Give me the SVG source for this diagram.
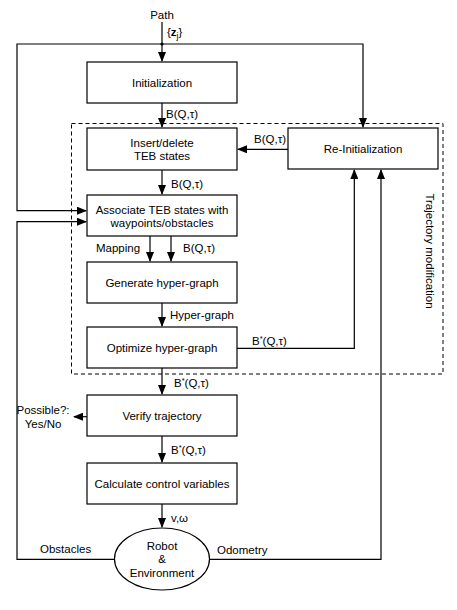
<svg xmlns="http://www.w3.org/2000/svg" width="457" height="610" viewBox="0 0 457 610">
<defs>
<marker id="ah" markerWidth="10" markerHeight="8" refX="9" refY="4" orient="auto" markerUnits="userSpaceOnUse">
<path d="M0,0 L10,4 L0,8 Z" fill="#000"/>
</marker>
<style>
.box{fill:#fff;stroke:#000;stroke-width:1.2}
.t{font-family:"Liberation Sans",Arial,sans-serif;font-size:11.5px;fill:#000}
.m{text-anchor:middle}
.c{fill:none;stroke:#000;stroke-width:1.2}
.a{marker-end:url(#ah)}
</style>
</defs>
<rect width="457" height="610" fill="#fff"/>
<g id="frame">
<rect x="71.5" y="123.5" width="371.5" height="250.5" fill="none" stroke="#000" stroke-width="1" stroke-dasharray="4,3"/>
<text class="t m" transform="translate(426,251) rotate(90)">Trajectory modification</text>
</g>
<g id="connectors">
<path class="c a" d="M162,22 V61"/>
<circle cx="162" cy="44" r="1.6" fill="#000"/>
<path class="c a" d="M162,44 H17 V210.7 H86"/>
<path class="c a" d="M162,44 H363 V127"/>
<path class="c a" d="M162,103 V127"/>
<path class="c a" d="M288,149.3 H238"/>
<path class="c a" d="M162,170 V194"/>
<path class="c a" d="M150,236 V261"/>
<path class="c a" d="M171,236 V261"/>
<path class="c a" d="M162,303 V326"/>
<path class="c a" d="M237,348.3 H354.3 V170"/>
<path class="c a" d="M162,368 V394"/>
<path class="c a" d="M87,416.7 H74"/>
<path class="c a" d="M162,436 V462"/>
<path class="c a" d="M162,504 V527"/>
<path class="c a" d="M114.5,559.3 H17 V221.7 H86"/>
<path class="c a" d="M209.5,559.3 H381 V170"/>
</g>
<g id="labels">
<text class="t m" x="162" y="19">Path</text>
<text class="t" x="167" y="36">{<tspan font-weight="bold">z</tspan><tspan font-size="8.5" dy="3">j</tspan><tspan dy="-3">}</tspan></text>
<text class="t" x="166" y="118">B(Q,τ)</text>
<text class="t" x="254" y="143">B(Q,τ)</text>
<text class="t" x="171" y="188">B(Q,τ)</text>
<text class="t" x="96" y="252">Mapping</text>
<text class="t" x="183" y="252">B(Q,τ)</text>
<text class="t" x="170" y="319">Hyper-graph</text>
<text class="t" x="252" y="345">B<tspan font-size="7.5" dy="-4">*</tspan><tspan dy="4">(Q,τ)</tspan></text>
<text class="t" x="174" y="387">B<tspan font-size="7.5" dy="-4">*</tspan><tspan dy="4">(Q,τ)</tspan></text>
<text class="t" x="171" y="454">B<tspan font-size="7.5" dy="-4">*</tspan><tspan dy="4">(Q,τ)</tspan></text>
<text class="t" x="171" y="522">v,ω</text>
<text class="t m" x="43" y="414">Possible?:</text>
<text class="t m" x="43" y="428">Yes/No</text>
<text class="t" x="40" y="553">Obstacles</text>
<text class="t" x="217" y="554">Odometry</text>
</g>
<g id="init">
<rect class="box" x="87" y="62" width="150" height="41"/>
<text class="t m" x="162" y="86.5">Initialization</text>
</g>
<g id="insert">
<rect class="box" x="87" y="128" width="150" height="42"/>
<text class="t m" x="162" y="147">Insert/delete</text>
<text class="t m" x="162" y="160">TEB states</text>
</g>
<g id="reinit">
<rect class="box" x="288" y="128" width="150" height="41"/>
<text class="t m" x="363" y="153">Re-Initialization</text>
</g>
<g id="associate">
<rect class="box" x="87" y="195" width="150" height="41"/>
<text class="t m" x="162" y="213.5">Associate TEB states with</text>
<text class="t m" x="162" y="226.5">waypoints/obstacles</text>
</g>
<g id="generate">
<rect class="box" x="87" y="262" width="150" height="41"/>
<text class="t m" x="162" y="286.5">Generate hyper-graph</text>
</g>
<g id="optimize">
<rect class="box" x="87" y="327" width="150" height="41"/>
<text class="t m" x="162" y="352">Optimize hyper-graph</text>
</g>
<g id="verify">
<rect class="box" x="87" y="395" width="150" height="41"/>
<text class="t m" x="162" y="419.5">Verify trajectory</text>
</g>
<g id="calc">
<rect class="box" x="87" y="463" width="150" height="41"/>
<text class="t m" x="162" y="487.5">Calculate control variables</text>
</g>
<g id="robot">
<ellipse class="box" cx="162" cy="559" rx="47.5" ry="31"/>
<text class="t m" x="162" y="550">Robot</text>
<text class="t m" x="162" y="563">&amp;</text>
<text class="t m" x="162" y="577">Environment</text>
</g>
</svg>
